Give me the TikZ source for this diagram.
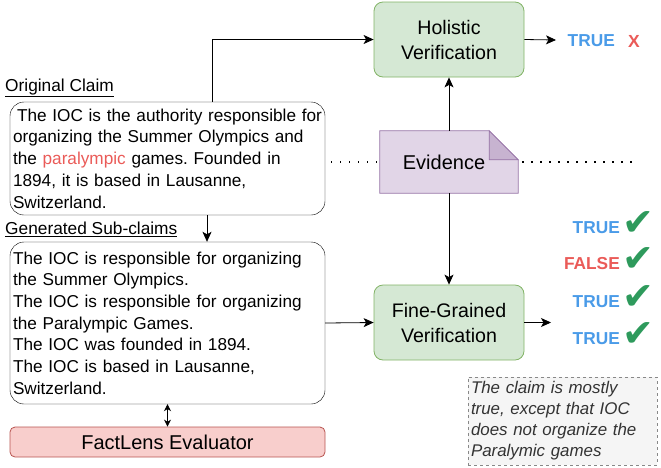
\documentclass[tikz,border=0pt]{standalone}
\usepackage{fontspec}
\setmainfont{Liberation Sans}
\newfontfamily\symfont{DejaVu Sans}
\usepackage{tikz}
\usetikzlibrary{arrows.meta,calc}
\frenchspacing

\definecolor{vfill}{HTML}{D5E8D4}
\definecolor{vdraw}{HTML}{82B366}
\definecolor{efill}{HTML}{E1D5E7}
\definecolor{edraw}{HTML}{9673A6}
\definecolor{lfill}{HTML}{F8CECC}
\definecolor{ldraw}{HTML}{B85450}
\definecolor{nfill}{HTML}{F5F5F5}
\definecolor{ndraw}{HTML}{888888}
\definecolor{tblue}{HTML}{4A9BE8}
\definecolor{fred}{HTML}{EA5B58}
\definecolor{cgreen}{HTML}{2E9A5C}

\tikzset{
  textbox/.style={draw, rounded corners=14pt, align=left, inner sep=3pt,
    text width=309pt, minimum width=315pt, font=\fontsize{17.2}{21.7}\selectfont},
  verify/.style={draw=vdraw, fill=vfill, rounded corners=9pt, line width=0.8pt,
    minimum width=150pt, minimum height=75pt, align=center,
    font=\fontsize{19.6}{25}\selectfont},
  label/.style={anchor=west, inner sep=0pt, font=\fontsize{17.3}{18}\selectfont},
  verdict/.style={anchor=east, inner sep=0pt, font=\bfseries\fontsize{17.3}{18}\selectfont},
  tick/.style={anchor=west, inner sep=0pt, text=cgreen, font=\symfont\fontsize{38}{38}\selectfont},
  link/.style={-{Stealth[length=10pt,width=9pt,inset=2.5pt]}, line width=0.8pt}
}

\begin{document}
\begin{tikzpicture}[x=1pt,y=-1pt]
\useasboundingbox (0,0) rectangle (661,467);

% claims on the left
\node[label] (lorig) at (5,88) {\underline{Original Claim}};
\node[textbox, minimum height=113pt] (claim) at (167.5,158.5)
  {\makebox[309pt][l]{\hspace*{4pt}The IOC is the authority responsible for}\\organizing the Summer Olympics and\\the \textcolor{fred}{paralympic} games. Founded in\\1894, it is based in Lausanne,\\Switzerland.};
\node[label] (lsub) at (5,229) {\underline{Generated Sub-claims}};
\node[textbox, minimum height=162pt] (sub) at (167.5,323)
  {The IOC is responsible for organizing\\the Summer Olympics.\\The IOC is responsible for organizing\\the Paralympic Games.\\The IOC was founded in 1894.\\The IOC is based in Lausanne,\\Switzerland.};
\node[draw=ldraw, fill=lfill, rounded corners=5pt, line width=0.8pt, minimum width=315pt,
  minimum height=30pt, font=\fontsize{20}{22}\selectfont] (eval) at (167.5,442) {FactLens Evaluator};

% verification boxes and evidence
\node[verify] (holi) at (449,39.5) {Holistic\\Verification};
\node[verify] (fine) at (449,322.5) {Fine-Grained\\Verification};
\node[minimum width=138pt, minimum height=62pt] (evid) at (449,162) {};
\filldraw[draw=edraw, fill=efill, line width=0.8pt]
  (evid.north west) -- ($(evid.north east)+(-29,0)$) -- ($(evid.north east)+(0,29)$)
  -- (evid.south east) -- (evid.south west) -- cycle;
\filldraw[draw=edraw, fill=edraw!35!efill, line width=0.8pt]
  ($(evid.north east)+(-29,0)$) -- ($(evid.north east)+(-29,29)$) -- ($(evid.north east)+(0,29)$) -- cycle;
\node[font=\fontsize{20}{22}\selectfont] (etext) at ([xshift=-5pt]evid) {Evidence};

\coordinate (dl) at (331,162);
\coordinate (dr) at (634,162);
\draw[line width=1.4pt, dash pattern=on 1.4pt off 7.6pt] (dl) -- (evid.west);
\draw[line width=1.4pt, dash pattern=on 1.4pt off 7.6pt] ($(evid.east)+(4,0)$) -- (dr);

% connectors
\draw[link] ([xshift=44.5pt]claim.north) |- (holi.west);
\draw[link] ([xshift=39.5pt]claim.south) -- ([xshift=39.5pt]sub.north);
\draw[link] (evid.north) -- (holi.south);
\draw[link] (evid.south) -- (fine.north);
\draw[link] (sub.east) -- (fine.west);
\draw[{Stealth[length=7pt,width=7pt]}-{Stealth[length=7pt,width=7pt]}, line width=0.8pt] (sub.south) -- (eval.north);
\coordinate (hout) at (556,40);
\coordinate (fout) at (551,322.5);
\draw[link] (holi.east) -- (hout);
\draw[link] (fine.east) -- (fout);

% verdicts
\node[verdict, text=tblue] (v0) at (615,41) {TRUE};
\node[anchor=west, inner sep=0pt, text=fred, font=\bfseries\fontsize{17.5}{18}\selectfont] (x0) at (628,41) {X};
\node[verdict, text=tblue] (v1) at (620,228) {TRUE};
\node[verdict, text=fred] (v2) at (620,264) {FALSE};
\node[verdict, text=tblue] (v3) at (620,302) {TRUE};
\node[verdict, text=tblue] (v4) at (620,339) {TRUE};
\foreach \n/\y in {1/224,2/260,3/298,4/335}
  \node[tick] (t\n) at (622,\y) {✔};

% summary note
\node[draw=ndraw, fill=nfill, dashed, line width=0.8pt, minimum width=189pt, minimum height=88pt,
  inner sep=3pt, text width=183pt, align=left, text=black!80,
  font=\itshape\fontsize{16.9}{21}\selectfont] (note) at (562.5,421)
  {The claim is mostly\\true, except that IOC\\does not organize the\\Paralymic games};
\end{tikzpicture}
\end{document}
